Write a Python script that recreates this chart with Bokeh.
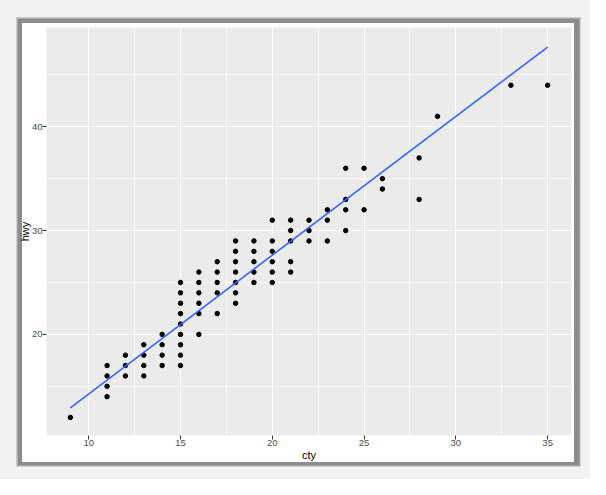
from bokeh.plotting import figure
from bokeh.models import Range1d, FixedTicker, Column
from bokeh.embed import file_html
from bokeh.resources import INLINE

# distinct (cty, hwy) points
cty = [9,
       11, 11, 11, 11,
       12, 12, 12,
       13, 13, 13, 13,
       14, 14, 14, 14,
       15, 15, 15, 15, 15, 15, 15, 15, 15,
       16, 16, 16, 16, 16, 16,
       17, 17, 17, 17, 17,
       18, 18, 18, 18, 18, 18, 18,
       19, 19, 19, 19, 19,
       20, 20, 20, 20, 20, 20,
       21, 21, 21, 21, 21,
       22, 22, 22,
       23, 23, 23,
       24, 24, 24, 24,
       25, 25,
       26, 26,
       28, 28,
       29,
       33,
       35]
hwy = [12,
       17, 16, 15, 14,
       18, 17, 16,
       19, 18, 17, 16,
       20, 19, 18, 17,
       25, 24, 23, 22, 21, 20, 19, 18, 17,
       26, 25, 24, 23, 22, 20,
       27, 26, 25, 24, 22,
       29, 28, 27, 26, 25, 24, 23,
       29, 28, 27, 26, 25,
       31, 29, 28, 27, 26, 25,
       31, 30, 29, 27, 26,
       31, 30, 29,
       32, 31, 29,
       36, 33, 32, 30,
       36, 32,
       35, 34,
       37, 33,
       41,
       44,
       44]

# fitted line
smooth_x = [9, 35]
smooth_y = [12.93, 47.68]

x_ticks = [10, 15, 20, 25, 30, 35]
x_minor = [12.5, 17.5, 22.5, 27.5, 32.5]
y_ticks = [20, 30, 40]
y_minor = [15, 25, 35, 45]

p = figure(width=564, height=447, output_backend="svg", toolbar_location=None,
           x_range=Range1d(7.7, 36.3), y_range=Range1d(10.26, 49.56),
           min_border_left=36, min_border_right=3, min_border_top=4, min_border_bottom=35,
           background_fill_color="#EBEBEB", border_fill_alpha=0, outline_line_color=None)

p.xaxis.ticker = FixedTicker(ticks=x_ticks, minor_ticks=x_minor)
p.yaxis.ticker = FixedTicker(ticks=y_ticks, minor_ticks=y_minor)

for ax in (p.xaxis, p.yaxis):
    ax.axis_line_color = None
    ax.major_tick_in = 0
    ax.major_tick_out = 4
    ax.major_tick_line_color = "#333333"
    ax.minor_tick_line_color = None
    ax.major_label_text_color = "#4D4D4D"
    ax.major_label_text_font = "Liberation Sans"
    ax.major_label_text_font_size = "9.5px"
    ax.major_label_standoff = 0
    ax.axis_label_text_font = "Liberation Sans"
    ax.axis_label_text_font_size = "11px"
    ax.axis_label_text_font_style = "normal"
    ax.axis_label_text_color = "black"

p.xaxis.axis_label = "cty"
p.yaxis.axis_label = "hwy"
p.yaxis.axis_label_standoff = -2
p.xaxis.axis_label_standoff = 0

p.grid.grid_line_color = "white"
p.grid.grid_line_width = 1.1
p.grid.minor_grid_line_color = "white"
p.grid.minor_grid_line_width = 0.6

p.scatter(cty, hwy, size=4.5, color="black")
p.line(smooth_x, smooth_y, line_color="#3366FF", line_width=1.6)

p.margin = (23, 0, 0, 10)

# page backdrop: light grey page, grey drop shadow and the white card
backdrop = ("linear-gradient(#FFFFFF, #FFFFFF) 22px 23px / 552px 439px no-repeat, "
            "linear-gradient(#8C8C8C, #8C8C8C) 18px 19px / 561px 446px no-repeat, "
            "linear-gradient(#A6A6A6, #A6A6A6) 17px 18px / 563px 448px no-repeat, "
            "linear-gradient(#CFCFCF, #CFCFCF) 16px 17px / 565px 450px no-repeat, "
            "#F2F2F2")

layout = Column(children=[p], width=590, height=479, styles={"background": backdrop})

open("out.html", "w").write(file_html(layout, INLINE))
